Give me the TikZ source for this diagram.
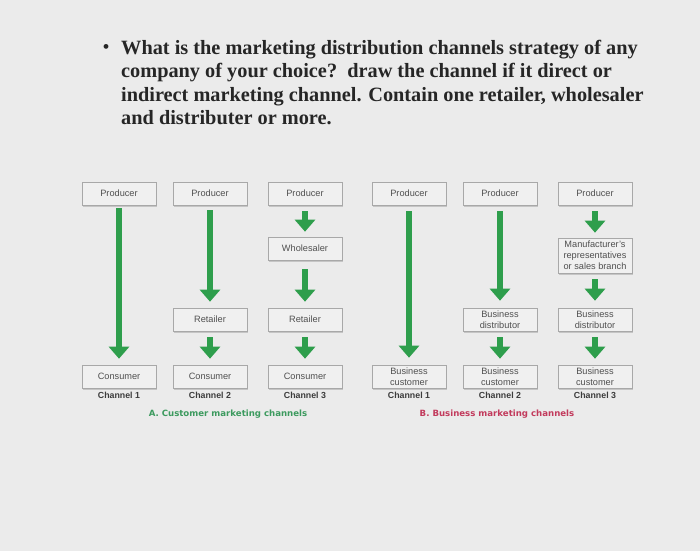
\documentclass[tikz,border=0pt]{standalone}
\usepackage{fontspec}
\setmainfont{Liberation Serif}
\setsansfont{Liberation Sans}
\newfontfamily\widebold{DejaVu Sans}
\usetikzlibrary{arrows.meta,shadows}
\definecolor{bgc}{HTML}{EBEBEB}
\definecolor{boxfill}{HTML}{F0F0F0}
\definecolor{boxline}{HTML}{A8A8A8}
\definecolor{boxtext}{HTML}{505050}
\definecolor{arrowgreen}{HTML}{2E9E4C}
\definecolor{titlec}{HTML}{262626}
\definecolor{agreen}{HTML}{3C9A5E}
\definecolor{bred}{HTML}{C23A5C}
\tikzset{
  chbox/.style={draw=boxline, line width=0.6pt, fill=boxfill, minimum width=74pt, minimum height=23pt,
    inner sep=1pt, align=center, text=boxtext, font=\sffamily\fontsize{9.2}{10.8}\selectfont,
    drop shadow={opacity=0.35, shadow xshift=1.2pt, shadow yshift=-1.5pt}},
  chlabel/.style={font=\sffamily\bfseries\fontsize{8.8}{10}\selectfont, text=titlec!90},
  garrow/.style={draw=arrowgreen, line width=6.5pt, -{Triangle[width=20pt,length=12pt]}},
  grouplabel/.style={font=\widebold\bfseries\fontsize{8.6}{10}\selectfont}
}
\begin{document}
\begin{tikzpicture}[x=1pt,y=-1pt]
\fill[bgc] (0,0) rectangle (700,551);
\useasboundingbox (0,0) rectangle (700,551);

% title
\node[anchor=center, text=titlec, font=\fontsize{20}{20}\selectfont] (bullet) at (106,49) {\textbullet};
\node[anchor=north west, inner sep=0pt, align=left, text=titlec,
      font=\bfseries\fontsize{20.3}{23.4}\selectfont] (title) at (121,40)
 {What is the marketing distribution channels strategy of any\\
  company of your choice?\ \ draw the channel if it direct or\\
  indirect marketing channel. Contain one retailer, wholesaler\\
  and distributer or more.};

% A. Customer channels
\node[chbox] (p1) at (119,193.5) {Producer};
\node[chbox] (p2) at (210,193.5) {Producer};
\node[chbox] (p3) at (305,193.5) {Producer};
\node[chbox] (w3) at (305,248.5) {Wholesaler};
\node[chbox] (r2) at (210,319.5) {Retailer};
\node[chbox] (r3) at (305,319.5) {Retailer};
\node[chbox] (c1) at (119,376.5) {Consumer};
\node[chbox] (c2) at (210,376.5) {Consumer};
\node[chbox] (c3) at (305,376.5) {Consumer};
\node[chlabel] (l1) at (119,395) {Channel 1};
\node[chlabel] (l2) at (210,395) {Channel 2};
\node[chlabel] (l3) at (305,395) {Channel 3};
\node[grouplabel, text=agreen] (ga) at (228,414) {A. Customer marketing channels};

\draw[garrow, shorten <=3pt, shorten >=6pt] (p1) -- (c1);
\draw[garrow, shorten <=5pt, shorten >=6pt] (p2) -- (r2);
\draw[garrow, shorten <=6pt, shorten >=6pt] (r2) -- (c2);
\draw[garrow, shorten <=6pt, shorten >=5pt] (p3) -- (w3);
\draw[garrow, shorten <=9pt, shorten >=6pt] (w3) -- (r3);
\draw[garrow, shorten <=6pt, shorten >=6pt] (r3) -- (c3);

% B. Business channels
\node[chbox] (q4) at (409,193.5) {Producer};
\node[chbox] (q5) at (500,193.5) {Producer};
\node[chbox] (q6) at (595,193.5) {Producer};
\node[chbox, minimum height=35pt] (m6) at (595,255.5) {Manufacturer's\\representatives\\or sales branch};
\node[chbox] (d5) at (500,319.5) {Business\\distributor};
\node[chbox] (d6) at (595,319.5) {Business\\distributor};
\node[chbox] (b4) at (409,376.5) {Business\\customer};
\node[chbox] (b5) at (500,376.5) {Business\\customer};
\node[chbox] (b6) at (595,376.5) {Business\\customer};
\node[chlabel] (l4) at (409,395) {Channel 1};
\node[chlabel] (l5) at (500,395) {Channel 2};
\node[chlabel] (l6) at (595,395) {Channel 3};
\node[grouplabel, text=bred] (gb) at (497,414) {B. Business marketing channels};

\draw[garrow, shorten <=6pt, shorten >=7pt] (q4) -- (b4);
\draw[garrow, shorten <=6pt, shorten >=7pt] (q5) -- (d5);
\draw[garrow, shorten <=6pt, shorten >=6pt] (d5) -- (b5);
\draw[garrow, shorten <=6pt, shorten >=5pt] (q6) -- (m6);
\draw[garrow, shorten <=6pt, shorten >=7pt] (m6) -- (d6);
\draw[garrow, shorten <=6pt, shorten >=6pt] (d6) -- (b6);
\end{tikzpicture}
\end{document}
